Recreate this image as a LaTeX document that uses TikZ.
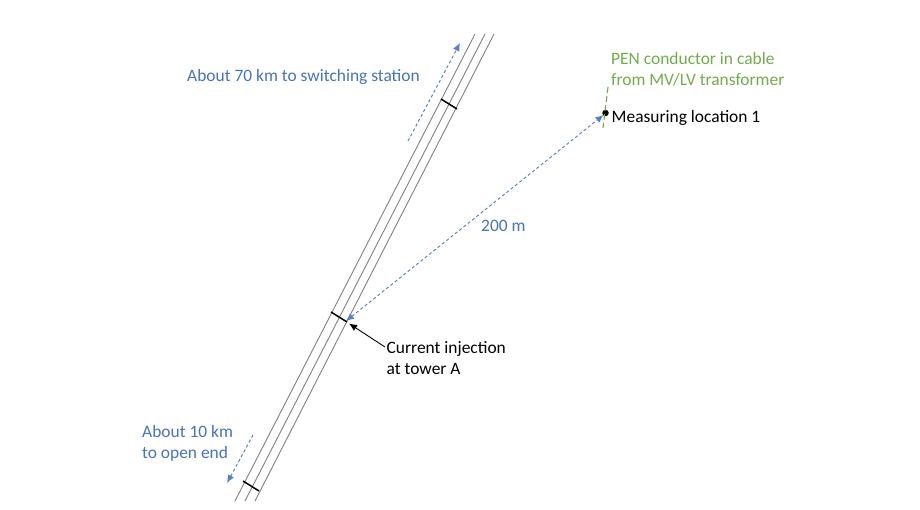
\documentclass[tikz,border=0pt]{standalone}
\usepackage{fontspec}
\setmainfont{Carlito}
\usetikzlibrary{arrows.meta}
\definecolor{bluetxt}{RGB}{68,114,196}
\definecolor{greentxt}{RGB}{112,173,71}
\tikzset{
  cond/.style={draw=black!50,line width=0.9pt},
  tick/.style={draw=black,line width=1.5pt},
  bluearrow/.style={draw=bluetxt!90,line width=1pt,dash pattern=on 3pt off 2.5pt},
  tip/.style={-{Latex[length=8pt,width=7pt]}},
  lbl/.style={font=\fontsize{17.42}{21}\selectfont,inner sep=0pt,align=left},
  bluelbl/.style={lbl,text=bluetxt},
  greenlbl/.style={lbl,text=greentxt},
}
\begin{document}
\begin{tikzpicture}[x=1pt,y=-1pt]
\useasboundingbox (0,0) rectangle (920,510);
% conductors
\coordinate (c1t) at (475,34); \coordinate (c1b) at (235,501);
\coordinate (c2t) at (485,34); \coordinate (c2b) at (245,501);
\coordinate (c3t) at (494,34); \coordinate (c3b) at (255,501);
\draw[cond] (c1t) -- (c1b);
\draw[cond] (c2t) -- (c2b);
\draw[cond] (c3t) -- (c3b);
% tower ticks
\coordinate (t1a) at (441,99);  \coordinate (t1b) at (457,109);
\coordinate (t2a) at (331,312); \coordinate (t2b) at (347,322);
\coordinate (t3a) at (243,481); \coordinate (t3b) at (259,491);
\draw[tick] (t1a) -- (t1b);
\draw[tick] (t2a) -- (t2b);
\draw[tick] (t3a) -- (t3b);
% blue direction arrows
\coordinate (u1) at (408,141); \coordinate (u2) at (460,43);
\coordinate (d1) at (253,435); \coordinate (d2) at (227,483);
\draw[bluearrow,tip] (u1) -- (u2);
\draw[bluearrow,tip] (d1) -- (d2);
% measuring point
\node[circle,fill=black,inner sep=0pt,minimum size=6.5pt] (ml) at (605.5,113) {};
\coordinate (g1) at (608,87); \coordinate (g2) at (603,128);
\draw[draw=greentxt,line width=1.1pt,dash pattern=on 6pt off 3pt] (g1) -- (g2);
\coordinate (inj) at (346,321);
\draw[bluearrow,{Latex[length=8pt,width=7pt]}-{Latex[length=8pt,width=7pt]}] (inj) -- (603.5,115);
% labels
\node[bluelbl,anchor=west] (l70) at (187,77) {About 70 km to switching station};
\node[greenlbl,anchor=west] (lpen) at (611,69.5) {PEN conductor in cable\\from MV/LV transformer};
\node[lbl,anchor=west] (lml) at (611.5,118) {Measuring location 1};
\node[bluelbl,anchor=west] (l200) at (481,226) {200 m};
\node[lbl,anchor=west] (lcur) at (386.5,358.5) {Current injection\\at tower A};
\node[bluelbl,anchor=west] (l10) at (142,443.5) {About 10 km\\to open end};
% current arrow
\coordinate (ca) at (385,347);
\draw[black,line width=0.9pt,tip] (ca) -- (349,323.5);
\end{tikzpicture}
\end{document}
